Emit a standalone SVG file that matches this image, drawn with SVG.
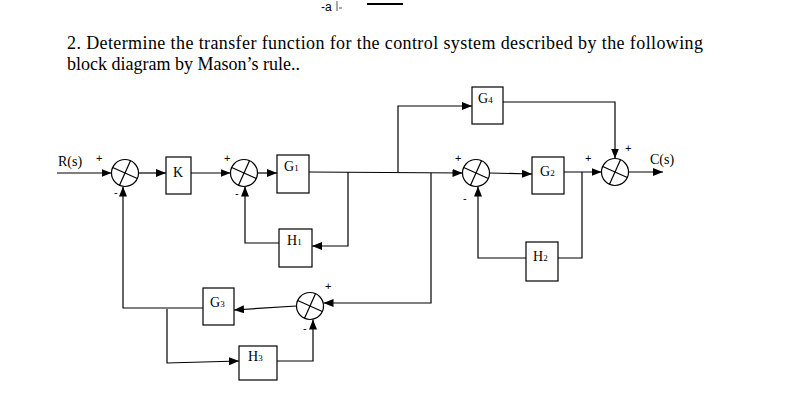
<svg xmlns="http://www.w3.org/2000/svg" width="807" height="400" viewBox="0 0 807 400">
<defs>
<marker id="ah" viewBox="0 0 10 8" refX="10" refY="4" markerWidth="10" markerHeight="8" markerUnits="userSpaceOnUse" orient="auto">
<path d="M0,0 L10,4 L0,8 Z" fill="#000"/>
</marker>
<g id="sj">
<circle cx="0" cy="0" r="13.5" fill="#fff" stroke="#000" stroke-width="1.2"/>
<line x1="5.5" y1="-12.3" x2="-5.5" y2="12.3" stroke="#000" stroke-width="1.2"/>
<line x1="-12.3" y1="-5.5" x2="12.3" y2="5.5" stroke="#000" stroke-width="1.2"/>
</g>
</defs>
<style>
.t{font-family:"Liberation Serif","Times New Roman",serif;fill:#000}
.title{font-size:18px}
.lbl{font-size:14px}
.sub{font-size:9px}
.sg{font-family:"Liberation Sans",Arial,sans-serif;font-size:11px;fill:#000}
.box{fill:#fff;stroke:#000;stroke-width:1.2}
.c{fill:none;stroke:#000;stroke-width:1.2}
.ca{fill:none;stroke:#000;stroke-width:1.2;marker-end:url(#ah)}
</style>
<rect width="807" height="400" fill="#fff"/>

<g id="header">
<text x="321" y="11" style="font-family:'Liberation Sans',Arial,sans-serif;font-size:12px">-a</text>
<line x1="337" y1="1" x2="337" y2="11" stroke="#555" stroke-width="1"/>
<line x1="339" y1="8" x2="342" y2="8" stroke="#555" stroke-width="1"/>
<line x1="367" y1="4" x2="403" y2="4" stroke="#000" stroke-width="2"/>
<text class="t title" x="67" y="49" textLength="636" lengthAdjust="spacing">2. Determine the transfer function for the control system described by the following</text>
<text class="t title" x="67" y="70">block diagram by Mason’s rule..</text>
</g>

<g id="connectors">
<path class="ca" d="M57,173 H111.5"/>
<path class="ca" d="M138.5,173 H166"/>
<path class="ca" d="M191,173 H230.5"/>
<path class="ca" d="M257.5,173 H277"/>
<path class="ca" d="M309,172 L462.5,173"/>
<path class="ca" d="M398,172 V106 H472"/>
<path class="ca" d="M503,102 H615 V158.5"/>
<path class="ca" d="M348,172 V246 H312"/>
<path class="ca" d="M279,243 H245 V186.5"/>
<path class="ca" d="M431,173 V303 H323.5"/>
<path class="ca" d="M489.5,173 L532,174"/>
<path class="ca" d="M564,172 H601.5"/>
<path class="c" d="M582,172 V258 H558"/>
<path class="ca" d="M526,258 H478 V186.5"/>
<path class="ca" d="M628.5,172 H663"/>
<path class="ca" d="M296.5,306 L234,310"/>
<path class="ca" d="M203,308 H123 V186.5"/>
<path class="ca" d="M167,309 V363 L239,361"/>
<path class="ca" d="M277,361 H313 V319.5"/>
</g>

<g id="R-label"><text class="t lbl" x="58" y="166">R(s)</text></g>
<g id="C-label"><text class="t lbl" x="650" y="164">C(s)</text></g>

<g id="sum1"><use href="#sj" x="125" y="173"/><text class="sg" x="96" y="162">+</text><text class="sg" x="114" y="196">-</text></g>
<g id="sum2"><use href="#sj" x="244" y="173"/><text class="sg" x="224" y="162">+</text><text class="sg" x="235" y="197">-</text></g>
<g id="sum3"><use href="#sj" x="476" y="173"/><text class="sg" x="455" y="162">+</text><text class="sg" x="463" y="202">-</text></g>
<g id="sum4"><use href="#sj" x="615" y="172"/><text class="sg" x="585" y="162">+</text><text class="sg" x="625" y="152">+</text></g>
<g id="sum5"><use href="#sj" x="310" y="306"/><text class="sg" x="325" y="290">+</text><text class="sg" x="303" y="332">-</text></g>

<g id="K"><rect class="box" x="166" y="157" width="25" height="37"/><text class="t lbl" x="173" y="177">K</text></g>
<g id="G1"><rect class="box" x="277" y="155" width="32" height="38"/><text class="t lbl" x="284" y="171">G<tspan class="sub">1</tspan></text></g>
<g id="H1"><rect class="box" x="279" y="229" width="33" height="38"/><text class="t lbl" x="287" y="245">H<tspan class="sub">1</tspan></text></g>
<g id="G4"><rect class="box" x="472" y="87" width="31" height="37"/><text class="t lbl" x="478" y="103">G<tspan class="sub">4</tspan></text></g>
<g id="G2"><rect class="box" x="532" y="157" width="32" height="37"/><text class="t lbl" x="540" y="176">G<tspan class="sub">2</tspan></text></g>
<g id="H2"><rect class="box" x="526" y="242" width="32" height="39"/><text class="t lbl" x="533" y="261">H<tspan class="sub">2</tspan></text></g>
<g id="G3"><rect class="box" x="203" y="288" width="31" height="37"/><text class="t lbl" x="210" y="307">G<tspan class="sub">3</tspan></text></g>
<g id="H3"><rect class="box" x="239" y="346" width="38" height="34"/><text class="t lbl" x="248" y="361">H<tspan class="sub">3</tspan></text></g>
</svg>
